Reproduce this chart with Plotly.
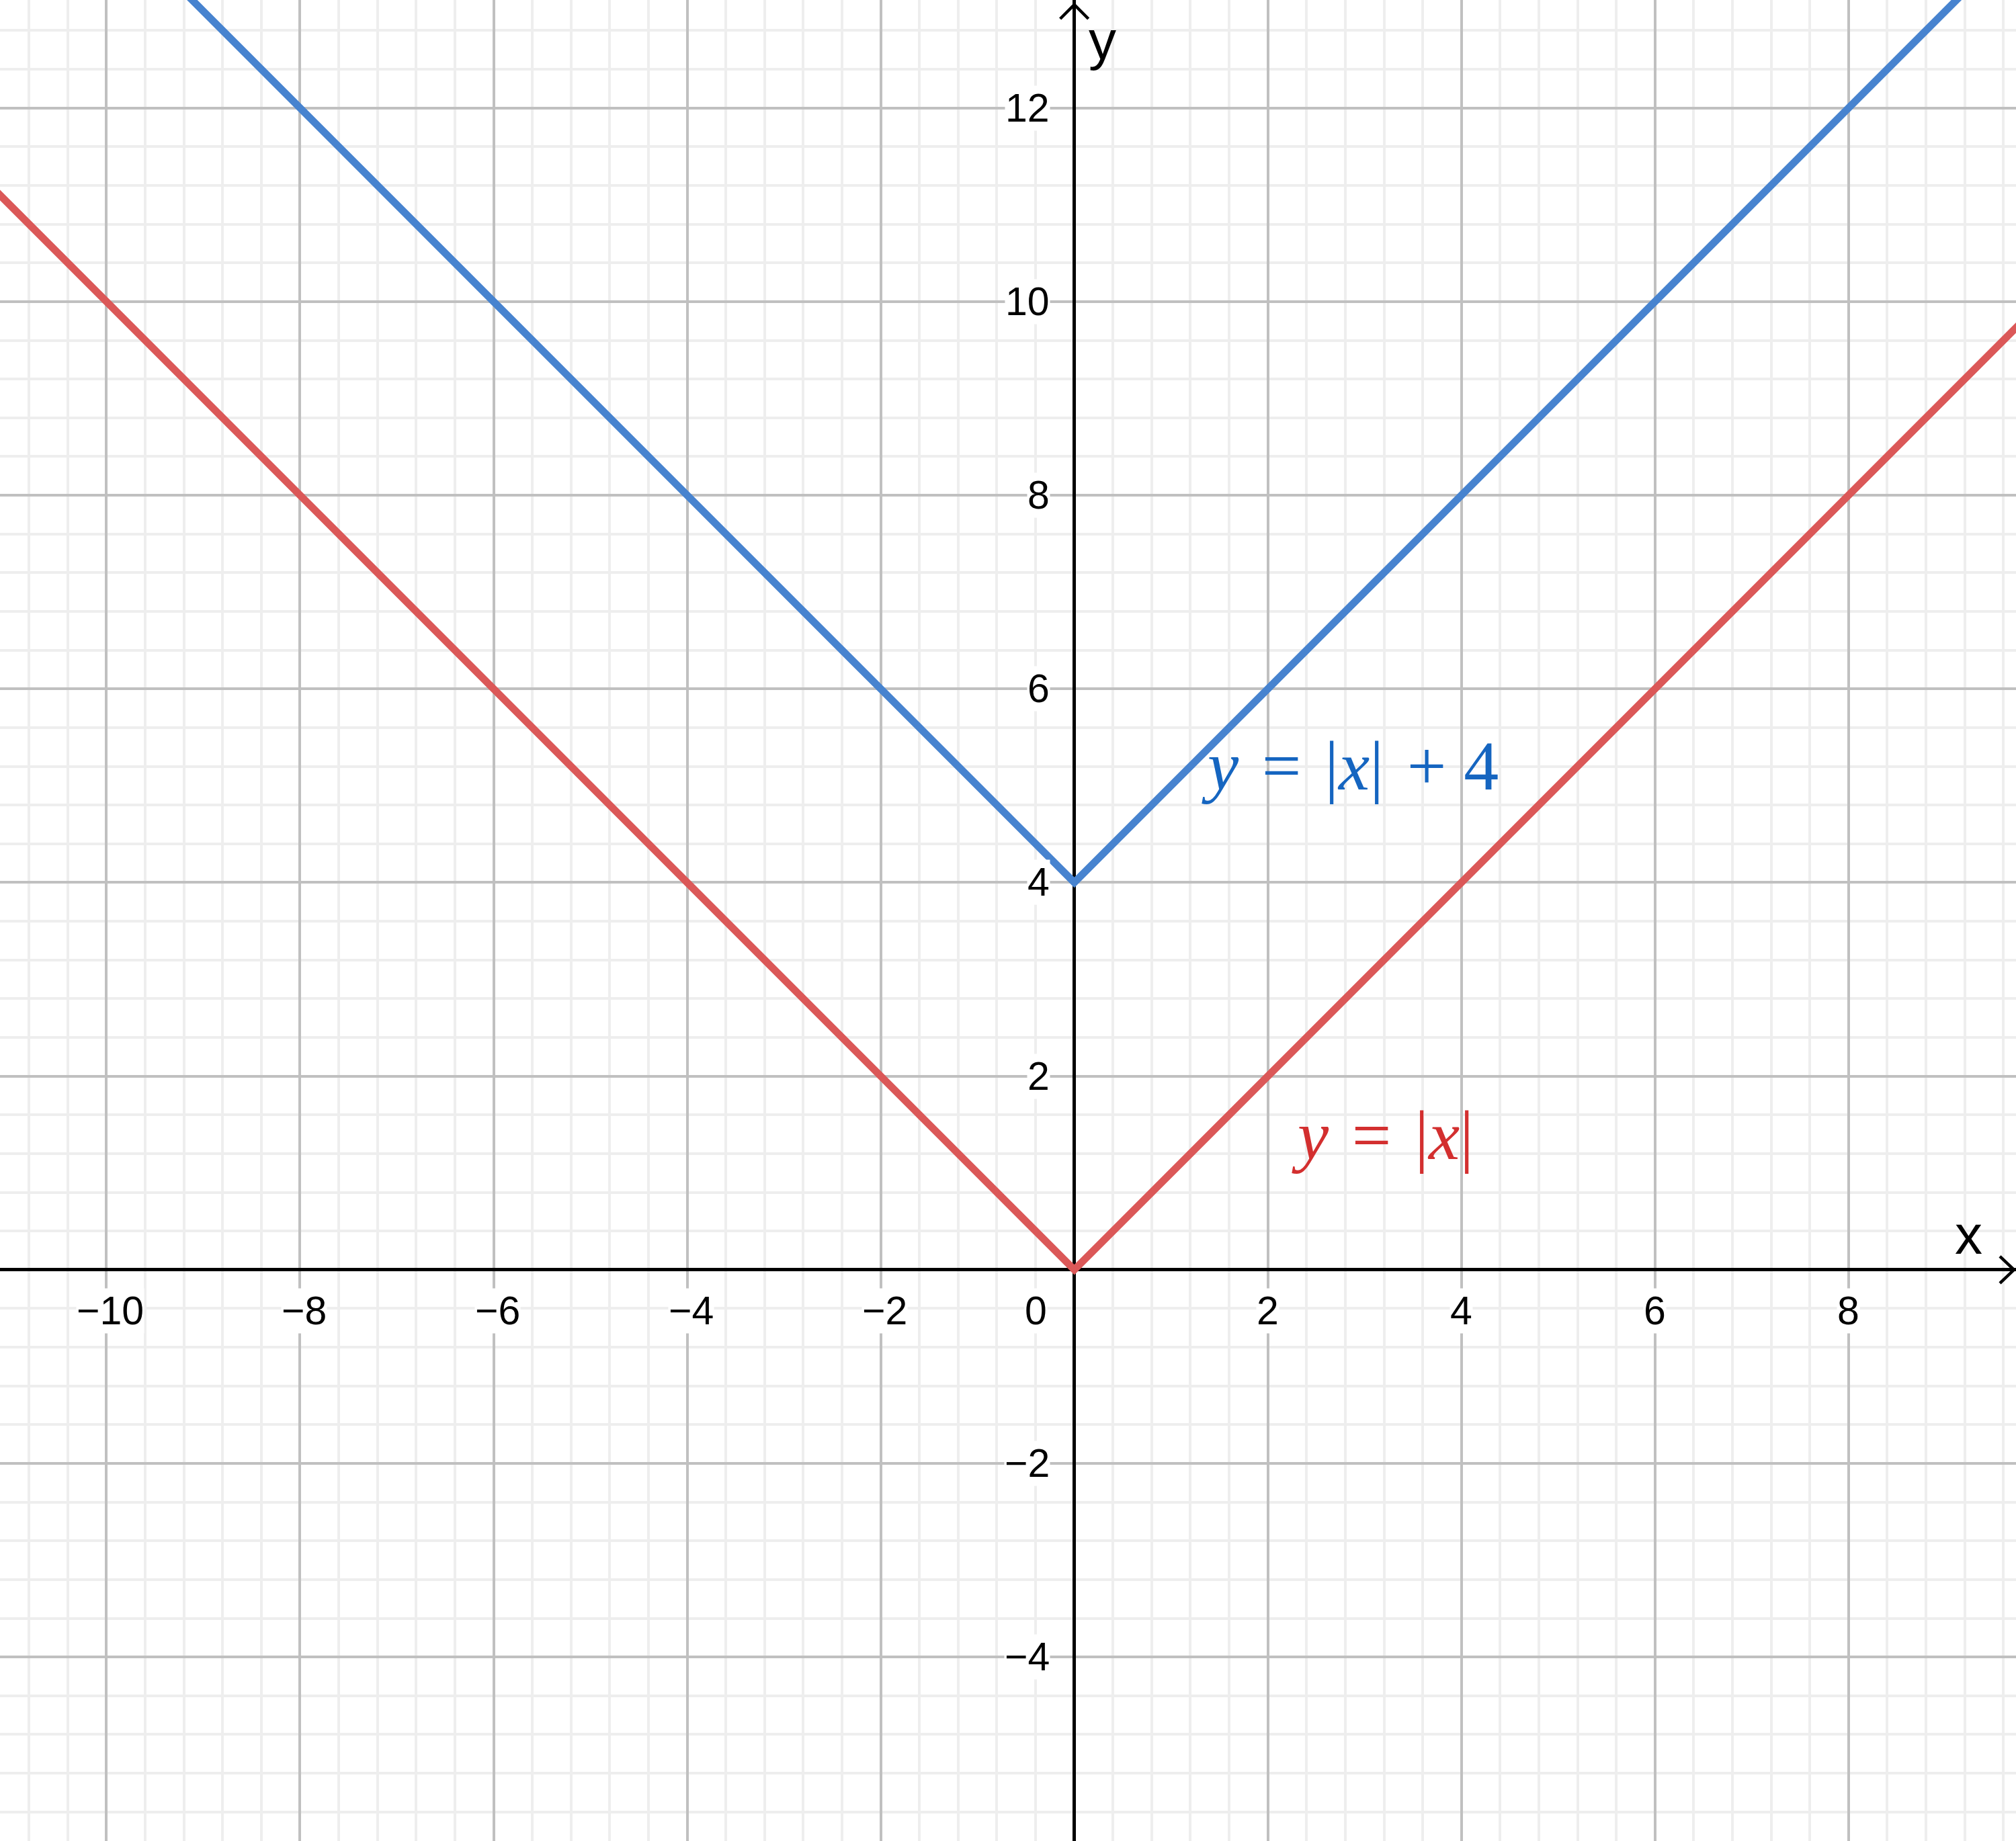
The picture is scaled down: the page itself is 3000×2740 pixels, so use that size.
import plotly.graph_objects as go

# function vertices
x_pts = [-12, 0, 12]
y_abs = [12, 0, 12]          # y = |x|
y_abs_plus4 = [16, 4, 16]    # y = |x| + 4

x_ticks = [-10, -8, -6, -4, -2, 2, 4, 6, 8]
y_ticks = [-4, -2, 2, 4, 6, 8, 10, 12]

x_range = [-11.10, 9.73]
y_range = [-5.90, 13.115]

red_line = "#DB5858"
blue_line = "#4783CF"
red_text = "#D32F2F"
blue_text = "#1565C0"

fig = go.Figure()
fig.add_trace(go.Scatter(x=x_pts, y=y_abs, mode="lines",
                         line=dict(color=red_line, width=11), hoverinfo="skip"))
fig.add_trace(go.Scatter(x=x_pts, y=y_abs_plus4, mode="lines",
                         line=dict(color=blue_line, width=11), hoverinfo="skip"))

def minus(v):
    return str(v).replace("-", "\u2212")

tick_font = dict(family="Liberation Sans, Arial", size=59, color="black")
ann = []
for t in x_ticks:
    ann.append(dict(x=t, y=0, text=minus(t), showarrow=False, font=tick_font,
                    xanchor="center", yanchor="middle", yshift=-61,
                    xshift=6 if t < 0 else 0,
                    bgcolor="white", borderpad=0))
for t in y_ticks:
    ann.append(dict(x=0, y=t, text=minus(t), showarrow=False, font=tick_font,
                    xanchor="right", yanchor="middle", xshift=-36,
                    bgcolor="white", borderpad=0))
ann.append(dict(x=0, y=0, text="0", showarrow=False, font=tick_font,
                xanchor="center", yanchor="middle", xshift=-57, yshift=-61,
                bgcolor="white", borderpad=0))

# axis names
ann.append(dict(x=0.29, y=12.70, text="y", showarrow=False,
                font=dict(family="Liberation Sans, Arial", size=82, color="black"),
                xanchor="center", yanchor="middle"))
ann.append(dict(x=9.24, y=0.36, text="x", showarrow=False,
                font=dict(family="Liberation Sans, Arial", size=82, color="black"),
                xanchor="center", yanchor="middle"))

# function labels (a bit of extra room round the operators, like TeX)
nb = "\u00a0"
hair = "\u200a"
sp = nb + hair
label_font = "Liberation Serif, Times New Roman"
ann.append(dict(x=1.30, y=5.21,
                text="<i>y</i>" + sp + "=" + sp + "|<i>x</i>|" + sp + "+" + nb + "4",
                showarrow=False, font=dict(family=label_font, size=104, color=blue_text),
                xanchor="left", yanchor="middle"))
ann.append(dict(x=2.23, y=1.39,
                text="<i>y</i>" + sp + "=" + sp + "|<i>x</i>|",
                showarrow=False, font=dict(family=label_font, size=104, color=red_text),
                xanchor="left", yanchor="middle"))

# arrow heads on the axes (open chevrons)
shapes = [
    dict(type="path", xref="x", yref="y", xsizemode="pixel", ysizemode="pixel",
         xanchor=0, yanchor=y_range[1], path="M-21,-28 L0,-7 L21,-28",
         line=dict(color="black", width=4.5)),
    dict(type="path", xref="x", yref="y", xsizemode="pixel", ysizemode="pixel",
         xanchor=x_range[1], yanchor=0, path="M-24,20 L-3,0 L-24,-20",
         line=dict(color="black", width=4.5)),
]

axis_common = dict(
    showticklabels=False, ticks="", dtick=2, tick0=0,
    showgrid=True, gridcolor="#C0C0C0", gridwidth=4,
    zeroline=True, zerolinecolor="black", zerolinewidth=4.5,
    minor=dict(dtick=0.4, tick0=0, showgrid=True, gridcolor="#EEEEEE", gridwidth=4),
    showline=False, fixedrange=True,
)

fig.update_layout(
    width=3000, height=2740,
    margin=dict(l=0, r=0, t=0, b=0),
    plot_bgcolor="white", paper_bgcolor="white",
    showlegend=False,
    xaxis=dict(range=x_range, **axis_common),
    yaxis=dict(range=y_range, **axis_common),
    annotations=ann,
    shapes=shapes,
)

fig.write_html("out.html", config={"displayModeBar": False},
               post_script="document.body.style.margin='0';")
